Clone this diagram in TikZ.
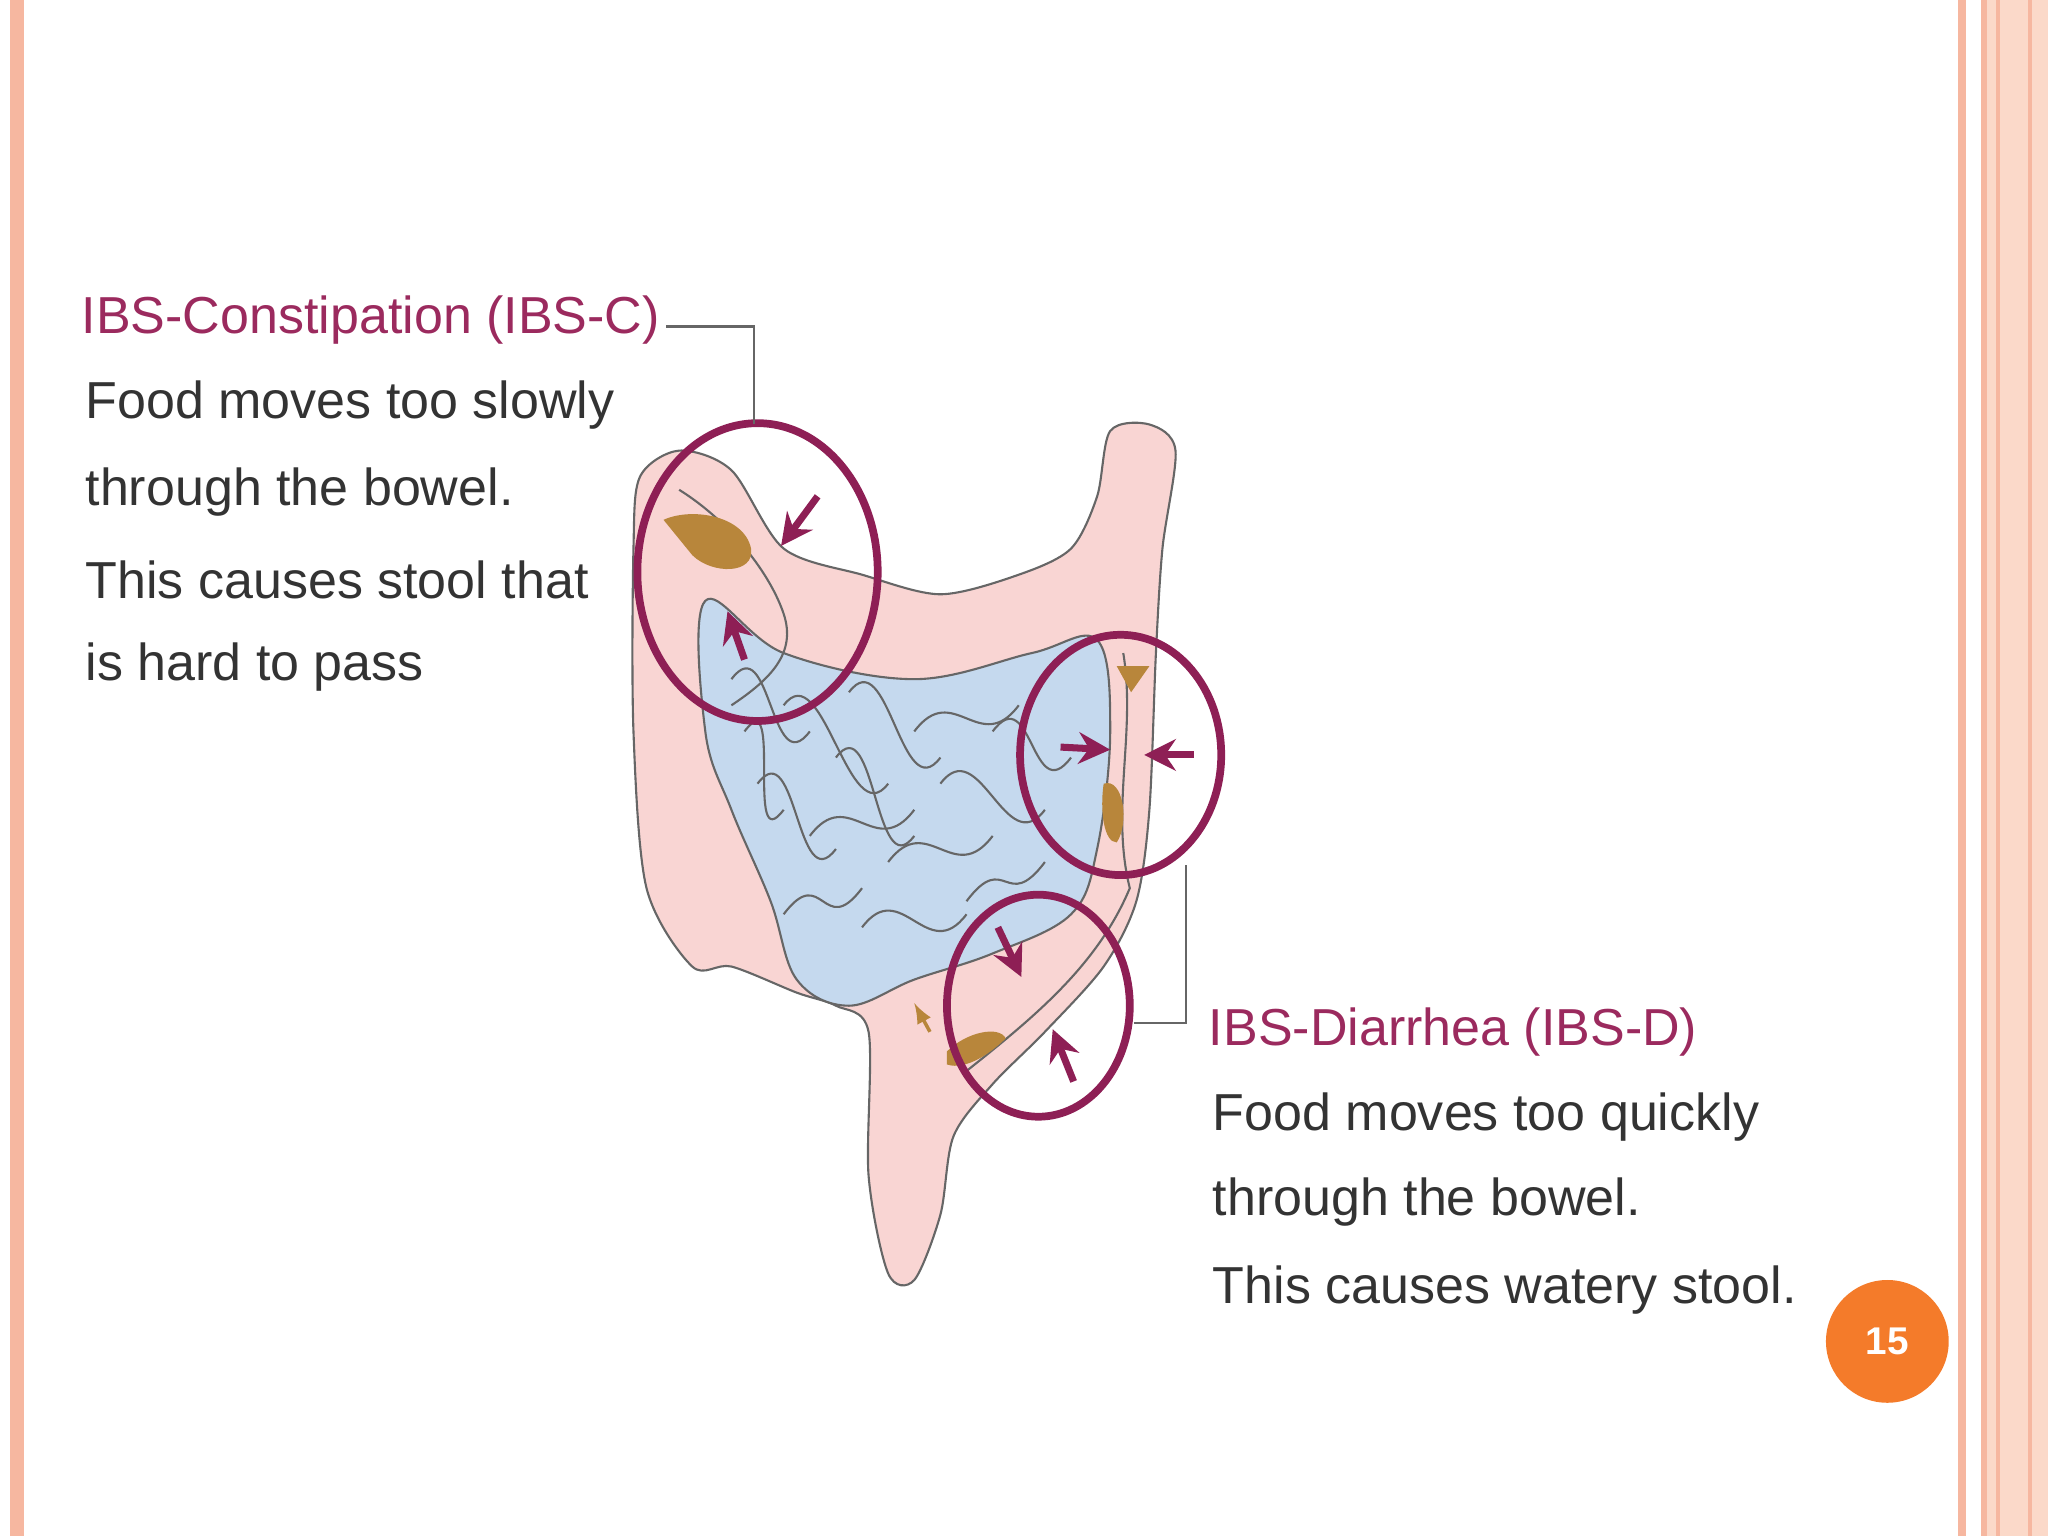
\documentclass[tikz,border=0pt]{standalone}
\usepackage{fontspec}
\setmainfont{Liberation Sans}
\usetikzlibrary{arrows.meta}
\definecolor{mag}{HTML}{9B2A5E}
\definecolor{ring}{HTML}{8E1F55}
\definecolor{pinkc}{HTML}{F9D5D3}
\definecolor{bluec}{HTML}{C5D9EE}
\definecolor{stool}{HTML}{B8863B}
\definecolor{salmon}{HTML}{F6B7A0}
\definecolor{peach}{HTML}{FBD9C9}
\definecolor{orng}{HTML}{F47B2A}
\begin{document}
\begin{tikzpicture}[x=0.01306cm,y=-0.01306cm,
  txt/.style={anchor=west,inner sep=0pt,font=\fontsize{14.8}{16}\selectfont,text=black!80},
  head/.style={txt,text=mag},
  ringc/.style={draw=ring,line width=2.2pt},
  arr/.style={draw=ring,line width=2pt,-{Stealth[length=9pt,width=9pt,inset=3pt]}},
  gut/.style={draw=black!60,line width=0.6pt},
  lead/.style={draw=black!60,line width=0.6pt}]
\useasboundingbox (0,0) rectangle (1568,1176);
% borders
\fill[salmon] (8,0) rectangle (18,1176);
\fill[salmon] (1499,0) rectangle (1505,1176);
\fill[peach] (1517,0) rectangle (1568,1176);
\fill[salmon] (1517,0) rectangle (1521,1176);
\fill[salmon] (1528,0) rectangle (1531,1176);
\fill[salmon] (1553,0) rectangle (1556,1176);
% colon
\path[gut,fill=pinkc] plot[smooth cycle,tension=0.5] coordinates {
 (490,365) (520,345) (560,360) (600,420) (660,440) (720,455) (780,440) (820,420)
 (840,380) (850,330) (880,325) (900,345) (890,420) (885,500) (880,620) (870,690)
 (845,740) (800,790) (760,830) (730,870) (720,930) (700,980) (680,975) (665,900)
 (665,790) (640,770) (610,760) (560,740) (530,740) (495,680) (485,560) (485,420)};
% small intestine
\path[gut,fill=bluec] plot[smooth cycle,tension=0.6] coordinates {
 (540,460) (600,500) (700,520) (790,500) (840,490) (850,560) (840,650) (820,700)
 (760,730) (700,750) (650,770) (610,750) (590,690) (560,620) (540,560)};
\foreach \a/\b/\c/\d in {560/520/620/560,600/540/680/600,650/530/720/580,700/560/780/540,
 580/600/640/650,620/640/700/620,680/660/760/640,720/600/800/620,600/700/660/680,
 660/710/740/700,740/690/800/660,570/560/600/620,760/560/820/580,640/580/700/640}
 \draw[gut] (\a,\b) .. controls (\a+30,\b-40) and (\c-30,\d+40) .. (\c,\d);
% lumen lines
\draw[gut] (520,375) .. controls (560,400) and (590,440) .. (600,470) .. controls (610,500) and (590,520) .. (560,540);
\draw[gut] (860,500) .. controls (870,560) and (850,620) .. (865,680) .. controls (840,740) and (790,780) .. (740,820);
% stool
\fill[stool] (508,398) .. controls (530,388) and (570,395) .. (575,420) .. controls (578,440) and (545,440) .. (530,425) -- cycle;
\fill[stool] (845,600) .. controls (860,595) and (865,630) .. (855,645) .. controls (845,645) and (842,620) .. (845,600) -- cycle;
\fill[stool] (855,510) -- (880,510) -- (866,530) -- cycle;
\fill[stool] (725,805) .. controls (740,790) and (765,785) .. (770,795) .. controls (760,805) and (740,820) .. (725,815) -- cycle;
% rings
\draw[ringc] (580,438) ellipse (92 and 114);
\draw[ringc] (858,578) ellipse (77 and 92);
\draw[ringc] (795,770) ellipse (70 and 85);
% arrows
\coordinate (a1s) at (626,380); \coordinate (a1e) at (598,418);
\coordinate (a2s) at (570,505); \coordinate (a2e) at (557,468);
\coordinate (a3s) at (812,572); \coordinate (a3e) at (850,574);
\coordinate (a4s) at (914,578); \coordinate (a4e) at (876,578);
\coordinate (a5s) at (764,710); \coordinate (a5e) at (782,748);
\coordinate (a6s) at (822,828); \coordinate (a6e) at (806,788);
\foreach \i in {1,...,6} \draw[arr] (a\i s) -- (a\i e);
\coordinate (b1) at (712,790); \coordinate (b2) at (700,768);
\draw[stool,line width=1pt,-latex] (b1) -- (b2);
% leaders
\draw[lead] (510,250) -- (577,250) -- (577,325);
\draw[lead] (868,783) -- (908,783) -- (908,662);
% texts
\node[head] (hc) at (62,245) {IBS-Constipation (IBS-C)};
\node[txt] (c1) at (65,310) {Food moves too slowly};
\node[txt] (c2) at (65,377) {through the bowel.};
\node[txt] (c3) at (65,444) {This causes stool that};
\node[txt] (c4) at (65,511) {is hard to pass};
\node[head] (hd) at (925,790) {IBS-Diarrhea (IBS-D)};
\node[txt] (d1) at (928,855) {Food moves too quickly};
\node[txt] (d2) at (928,920) {through the bowel.};
\node[txt] (d3) at (928,988) {This causes watery stool.};
% page number
\node[circle,fill=orng,minimum size=94*0.01306cm,inner sep=0pt,text=white,font=\bfseries\fontsize{11}{12}\selectfont] (pg) at (1445,1027) {15};
\end{tikzpicture}
\end{document}
